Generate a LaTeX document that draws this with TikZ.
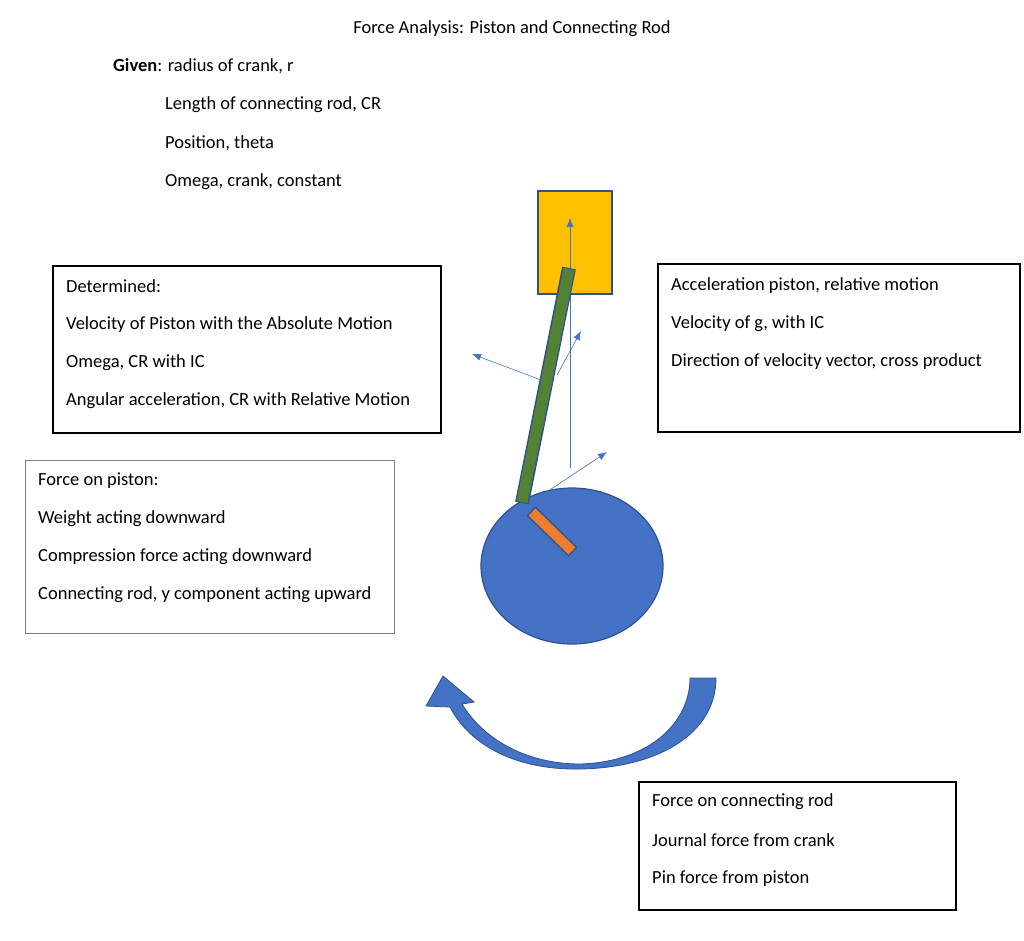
\documentclass[tikz,border=0pt]{standalone}
\usepackage{fontspec}
\setmainfont{Carlito}
\begin{document}
\begin{tikzpicture}[x=1pt,y=-1pt,
  txt/.style={anchor=west,inner sep=0pt,font=\fontsize{18.5}{22}\selectfont},
  box/.style={draw=black,line width=1.2pt},
  vec/.style={draw=vblue,line width=0.6pt,-{Latex[length=9pt,width=7pt]}}]
\usetikzlibrary{arrows.meta}
\definecolor{vblue}{HTML}{4472C4}
\definecolor{dblue}{HTML}{2F528F}
\definecolor{gold}{HTML}{FFC000}
\definecolor{rodg}{HTML}{548235}
\definecolor{orng}{HTML}{ED7D31}
\path[use as bounding box] (0,0) rectangle (1024,940);
\node[txt,anchor=center] (title) at (512,29) {Force Analysis: Piston and Connecting Rod};
\node[txt] (g0) at (113,66) {\textbf{Given}: radius of crank, r};
\node[txt] (g1) at (165,105) {Length of connecting rod, CR};
\node[txt] (g2) at (165,143) {Position, theta};
\node[txt] (g3) at (165,182) {Omega, crank, constant};
% boxes
\draw[box] (53,266) rectangle (441,433);
\node[txt] (d0) at (66,286) {Determined:};
\node[txt] (d1) at (66,325) {Velocity of Piston with the Absolute Motion};
\node[txt] (d2) at (66,363) {Omega, CR with IC};
\node[txt] (d3) at (66,401) {Angular acceleration, CR with Relative Motion};
\draw[box] (658,264) rectangle (1020,432);
\node[txt] (a0) at (671,286) {Acceleration piston, relative motion};
\node[txt] (a1) at (671,324) {Velocity of g, with IC};
\node[txt] (a2) at (671,362) {Direction of velocity vector, cross product};
\draw[draw=gray,line width=0.8pt] (25,460) rectangle (394,633);
\node[txt] (p0) at (38,481) {Force on piston:};
\node[txt] (p1) at (38,519) {Weight acting downward};
\node[txt] (p2) at (38,557) {Compression force acting downward};
\node[txt] (p3) at (38,595) {Connecting rod, y component acting upward};
\draw[box] (639,782) rectangle (956,910);
\node[txt] (c0) at (652,802) {Force on connecting rod};
\node[txt] (c1) at (652,840) {Journal force from crank};
\node[txt] (c2) at (652,879) {Pin force from piston};
% mechanism
\draw[fill=gold,draw=dblue,line width=1.2pt] (538,191) rectangle (612,294);
\draw[fill=vblue,draw=dblue,line width=1.2pt] (572,566) ellipse [x radius=91,y radius=78];
\draw[vec] (570,468) -- (570,218);
\draw[line width=14pt,draw=dblue] (569,268) -- (522,503);
\draw[line width=11pt,draw=rodg] (569,269) -- (522,502);
\draw[line width=13pt,draw=dblue] (531,511) -- (573,552);
\draw[line width=10pt,draw=orng] (532,512) -- (572,551);
\draw[vec] (541,380) -- (472,354);
\draw[vec] (557,375) -- (581,331);
\draw[vec] (545,493) -- (607,452);
% curved arrow
\draw[fill=vblue,draw=dblue,line width=0.8pt]
 (716,678) .. controls (716,735) and (655,770) .. (572,769)
 .. controls (510,768) and (468,742) .. (450,707)
 -- (426,706) -- (443,676) -- (474,702) -- (462,704)
 .. controls (485,742) and (530,764) .. (580,764)
 .. controls (650,762) and (690,722) .. (690,678) -- cycle;
\end{tikzpicture}
\end{document}
